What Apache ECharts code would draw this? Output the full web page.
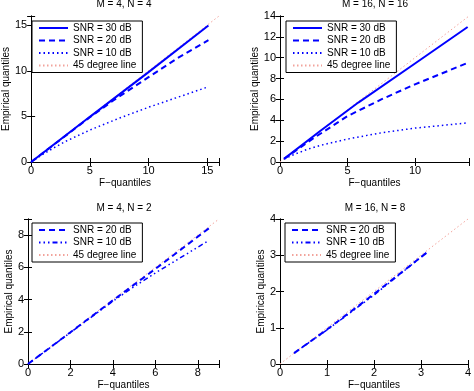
<!DOCTYPE html>
<html><head><meta charset="utf-8">
<script src="https://cdn.jsdelivr.net/npm/echarts@6/dist/echarts.min.js"></script>
<style>html,body{margin:0;padding:0;background:#fff}#c{width:474px;height:391px}</style>
</head><body><div id="c"></div>
<script>
// ---- Data ----
const titles = ['M = 4, N = 4', 'M = 16, N = 16', 'M = 4, N = 2', 'M = 16, N = 8'];
const xName = 'F\u2212quantiles';
const yName = 'Empirical quantiles';

// Panel 1: M = 4, N = 4
const p1_x30 = [0, 5, 10, 15.1];
const p1_y30 = [0, 4.95, 9.85, 14.95];
const p1_x20 = [0, 5, 7, 10, 12.5, 15.1];
const p1_y20 = [0, 4.9, 6.75, 9.3, 11.4, 13.35];
const p1_x10 = [0, 1, 2, 3, 5, 7.5, 10, 12.5, 15];
const p1_y10 = [0, 0.85, 1.6, 2.3, 3.5, 4.8, 6.0, 7.1, 8.2];
const p1_diag = [0, 16];

// Panel 2: M = 16, N = 16
const p2_x30 = [0.3, 3, 5.8, 10, 13.9];
const p2_y30 = [0.3, 3.0, 5.7, 9.45, 12.95];
const p2_x20 = [0.3, 2.5, 5, 7.5, 10, 13.9];
const p2_y20 = [0.3, 2.3, 4.4, 6.0, 7.45, 9.5];
const p2_x10 = [0.3, 1, 2, 3, 5, 7.5, 10, 13.9];
const p2_y10 = [0.3, 0.7, 1.2, 1.6, 2.2, 2.8, 3.25, 3.75];
const p2_diag = [0, 14];

// Panel 3: M = 4, N = 2
const p3_x20 = [0, 2, 4, 6, 8.65];
const p3_y20 = [0, 1.97, 3.95, 5.9, 8.55];
const p3_x10 = [0, 2, 4, 5, 6, 7, 8.5];
const p3_y10 = [0, 1.95, 3.9, 4.8, 5.65, 6.45, 7.65];
const p3_diag = [0, 9];

// Panel 4: M = 16, N = 8
const p4_x20 = [0.3, 1, 2, 3.15];
const p4_y20 = [0.3, 0.95, 1.93, 3.1];
const p4_x10 = [0.3, 1, 2, 3.1];
const p4_y10 = [0.3, 0.94, 1.9, 3.05];
const p4_diag = [0, 4];

const lab30 = 'SNR = 30 dB', lab20 = 'SNR = 20 dB', lab10 = 'SNR = 10 dB', labDiag = '45 degree line';

// ---- Styles ----
const FONT = '"Liberation Sans", Arial, Helvetica, sans-serif';
const BLUE = '#0000ff';
const DIAG = '#f2a39b';
const STY = {
  solid: {type: 'solid', width: 2, color: BLUE},
  dash: {type: [6, 4], width: 2, color: BLUE},
  dot: {type: [1.5, 3], width: 1.5, color: BLUE},
  dashdot: {type: [1.5, 3, 1.5, 3, 1.5, 3, 5, 3], width: 1.5, color: BLUE},
  diag: {type: [1.5, 2.5], width: 1, color: DIAG}
};
function pairs(xs, ys) { return xs.map((x, i) => [x, ys[i]]); }

const panels = [
  {grid: {left: 28, top: 16, width: 191, height: 146}, xmax: 16, xint: 5, ymax: 16, yint: 5, yGap: 17,
   titlePos: [124, 4], legendPos: [32, 21],
   lines: [[lab30, p1_x30, p1_y30, 'solid'], [lab20, p1_x20, p1_y20, 'dash'], [lab10, p1_x10, p1_y10, 'dot'], [labDiag, p1_diag, p1_diag, 'diag']]},
  {grid: {left: 280, top: 16, width: 189, height: 146}, xmax: 14, xint: 5, ymax: 14, yint: 2, yGap: 16,
   titlePos: [375, 4], legendPos: [286, 21],
   lines: [[lab30, p2_x30, p2_y30, 'solid'], [lab20, p2_x20, p2_y20, 'dash'], [lab10, p2_x10, p2_y10, 'dot'], [labDiag, p2_diag, p2_diag, 'diag']]},
  {grid: {left: 28, top: 219, width: 191, height: 145}, xmax: 9, xint: 2, ymax: 9, yint: 2, yGap: 11,
   titlePos: [124, 208], legendPos: [32, 223],
   lines: [[lab20, p3_x20, p3_y20, 'dash'], [lab10, p3_x10, p3_y10, 'dashdot'], [labDiag, p3_diag, p3_diag, 'diag']]},
  {grid: {left: 280, top: 219, width: 189, height: 145}, xmax: 4, xint: 1, ymax: 4, yint: 1, yGap: 12,
   titlePos: [375, 208], legendPos: [285, 223],
   lines: [[lab20, p4_x20, p4_y20, 'dash'], [lab10, p4_x10, p4_y10, 'dashdot'], [labDiag, p4_diag, p4_diag, 'diag']]}
];

const grid = [], xAxis = [], yAxis = [], series = [], legend = [], graphic = [];
const axisLine = {show: true, lineStyle: {color: '#000', width: 1}};
const tick = {show: true, inside: true, length: 4, lineStyle: {color: '#000'}};
function fmt(step) { return v => (Math.abs(v / step - Math.round(v / step)) < 1e-6 ? String(Math.round(v * 100) / 100) : ''); }

panels.forEach((p, i) => {
  grid.push(Object.assign({containLabel: false}, p.grid));
  const common = {type: 'value', gridIndex: i, min: 0, splitLine: {show: false}, axisLine, axisTick: tick};
  xAxis.push(Object.assign({}, common, {
    max: p.xmax, interval: p.xint, position: 'bottom',
    axisLabel: {color: '#000', fontSize: 11, fontFamily: FONT, margin: 3, formatter: fmt(p.xint), showMaxLabel: true},
    name: xName, nameLocation: 'middle', nameGap: 16,
    nameTextStyle: {color: '#000', fontSize: 10, fontFamily: FONT}
  }));
  xAxis.push(Object.assign({}, common, {max: p.xmax, interval: p.xint, position: 'top', axisLabel: {show: false}}));
  yAxis.push(Object.assign({}, common, {
    max: p.ymax, interval: p.yint, position: 'left',
    axisLabel: {color: '#000', fontSize: 11, fontFamily: FONT, margin: 4, formatter: fmt(p.yint)},
    name: yName, nameLocation: 'middle', nameGap: p.yGap,
    nameTextStyle: {color: '#000', fontSize: 10, fontFamily: FONT}
  }));
  yAxis.push(Object.assign({}, common, {max: p.ymax, interval: p.yint, position: 'right', axisLabel: {show: false}}));

  const names = [];
  p.lines.forEach(([lab, xs, ys, st], k) => {
    const nm = i + '|' + lab;
    names.push(nm);
    series.push({
      name: nm, type: 'line', xAxisIndex: 2 * i, yAxisIndex: 2 * i,
      data: pairs(xs, ys), symbol: 'none', showSymbol: false, animation: false,
      color: STY[st].color, lineStyle: STY[st], z: st === 'diag' ? 1 : 3 + k
    });
  });
  legend.push({
    left: p.legendPos[0], top: p.legendPos[1], orient: 'vertical', data: names,
    formatter: n => n.split('|')[1], selectedMode: false,
    itemWidth: 29, itemHeight: 10, itemGap: 2.5, padding: [2, 6, 2, 6],
    itemStyle: {opacity: 0, borderWidth: 0},
    backgroundColor: '#fff', borderColor: '#000', borderWidth: 1, borderRadius: 0,
    textStyle: {color: '#000', fontSize: 10, fontFamily: FONT}
  });
  graphic.push({
    type: 'text', x: p.titlePos[0], y: p.titlePos[1],
    style: {text: titles[i], fill: '#000', font: '10px ' + FONT, textAlign: 'center', textVerticalAlign: 'middle'}
  });
});

const chart = echarts.init(document.getElementById('c'), null, {renderer: 'canvas'});
chart.setOption({animation: false, backgroundColor: '#fff', grid, xAxis, yAxis, series, legend, graphic});
</script>
</body></html>
